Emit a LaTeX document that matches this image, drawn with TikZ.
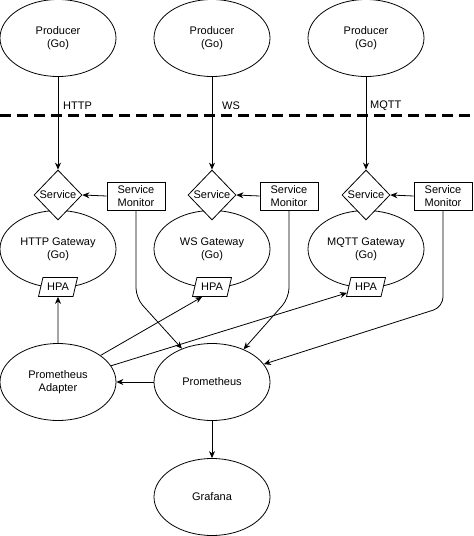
\documentclass[tikz,border=0pt]{standalone}
\usepackage{fontspec}
\setmainfont{Liberation Sans}
\usetikzlibrary{shapes.geometric,arrows.meta}
\begin{document}
\begin{tikzpicture}[x=1pt,y=-1pt,
  font=\fontsize{11}{13}\selectfont,
  ell/.style={draw,ellipse,minimum width=116pt,minimum height=77pt,inner sep=0pt,align=center,line width=0.8pt},
  svc/.style={draw,diamond,minimum width=48pt,minimum height=50pt,inner sep=0pt,line width=0.8pt,fill=white},
  smon/.style={draw,rectangle,minimum width=58pt,minimum height=28pt,inner sep=0pt,align=center,line width=0.8pt},
  hpa/.style={draw,trapezium,trapezium left angle=65,trapezium right angle=115,trapezium stretches body,minimum width=39pt,minimum height=19pt,inner sep=1pt,line width=0.8pt,fill=white},
  arr/.style={draw,line width=0.8pt,-{Stealth[length=7pt,width=6pt]}},
  lbl/.style={anchor=west,inner sep=0pt}
]
\fill[white] (0,0) rectangle (474,536);
\useasboundingbox (0,0) rectangle (474,536);

% producers
\node[ell] (p1) at (58,38) {Producer\\(Go)};
\node[ell] (p2) at (212,38) {Producer\\(Go)};
\node[ell] (p3) at (366,38) {Producer\\(Go)};

% dashed boundary
\coordinate (dl) at (0,115);
\coordinate (dr) at (474,115);
\draw[line width=3pt,dash pattern=on 11pt off 6pt] (dl) -- (dr);

% gateways
\node[ell] (g1) at (58,249) {HTTP Gateway\\(Go)};
\node[ell] (g2) at (212,249) {WS Gateway\\(Go)};
\node[ell] (g3) at (366,249) {MQTT Gateway\\(Go)};

% services
\node[svc] (s1) at (58,195) {Service};
\node[svc] (s2) at (212,195) {Service};
\node[svc] (s3) at (366,195) {Service};

% service monitors
\node[smon] (m1) at (136,196) {Service\\Monitor};
\node[smon] (m2) at (289,196) {Service\\Monitor};
\node[smon] (m3) at (443,196) {Service\\Monitor};

% HPA
\node[hpa] (h1) at (58,287) {HPA};
\node[hpa] (h2) at (212,287) {HPA};
\node[hpa] (h3) at (366,287) {HPA};

% bottom
\node[ell] (pa) at (58,382) {Prometheus\\Adapter};
\node[ell] (pr) at (212,382) {Prometheus};
\node[ell] (gr) at (212,497) {Grafana};

% producer -> service
\draw[arr] (p1.south) -- (s1.north);
\draw[arr] (p2.south) -- (s2.north);
\draw[arr] (p3.south) -- (s3.north);
\node[lbl] (l1) at (63,106) {HTTP};
\node[lbl] (l2) at (222,106) {WS};
\node[lbl] (l3) at (370,106) {MQTT};

% monitor -> service
\draw[arr] (m1.west) -- (s1.east);
\draw[arr] (m2.west) -- (s2.east);
\draw[arr] (m3.west) -- (s3.east);

% monitor -> prometheus
\draw[arr,rounded corners=10pt] (m1.south) -- (136,298) -- (pr.132);
\draw[arr,rounded corners=10pt] (m2.south) -- (289,298) -- (pr.46);
\draw[arr,rounded corners=10pt] (m3.south) -- (443,307) -- (pr.19);

% adapter -> HPA
\draw[arr] (pa.north) -- (h1.south);
\draw[arr] (pa.32) -- (h2.south west);
\draw[arr] (pa.17) -- (h3);

% prometheus -> adapter, grafana
\draw[arr] (pr.west) -- (pa.east);
\draw[arr] (pr.south) -- (gr.north);
\end{tikzpicture}
\end{document}
